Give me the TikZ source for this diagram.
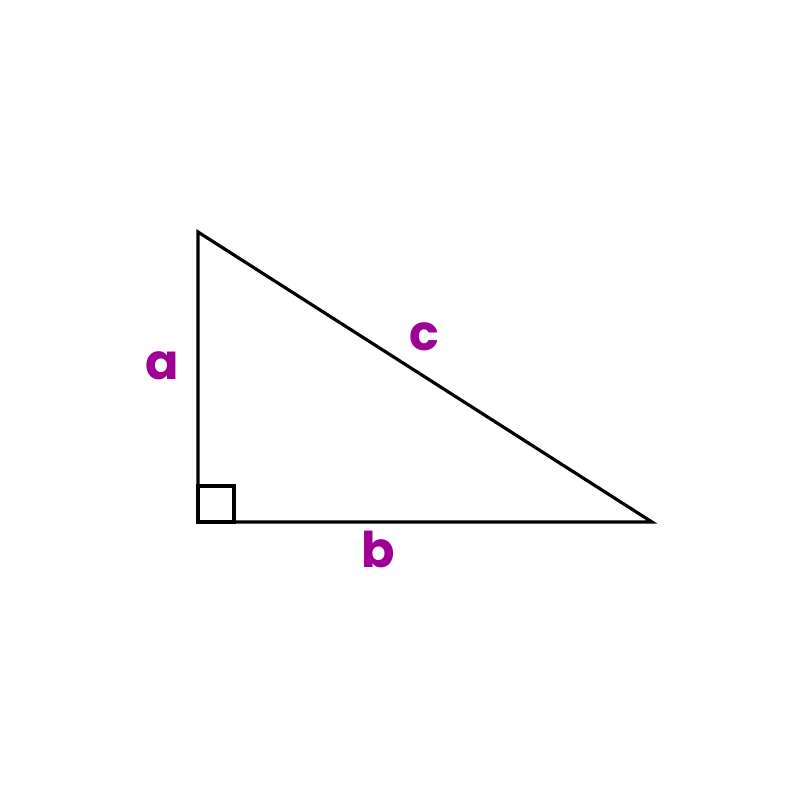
\documentclass[tikz,border=0pt]{standalone}
\usepackage{fontspec}
\setmainfont{Poppins}
\usetikzlibrary{positioning}
\definecolor{labcol}{RGB}{158,0,150}
\tikzstyle{side}=[draw=black, line width=0.9pt, line join=miter]
\tikzstyle{lab}=[text=labcol, font=\fontsize{14}{17}\selectfont\bfseries, inner sep=0pt]
\begin{document}
\begin{tikzpicture}[x=0.01cm,y=-0.01cm]
    \useasboundingbox (0,0) rectangle (800,800);
    \coordinate (top) at (198,232);
    \coordinate (corner) at (198,522);
    \coordinate (right) at (652,522);
    % triangle
    \draw[side] (top) -- (corner) -- (right) -- cycle;
    % right angle mark
    \draw[side] (corner) rectangle ++(36,-36);
    % labels
    \node[lab] (a) at (162,366) {a};
    \node[lab] (b) at (378,549) {b};
    \node[lab] (c) at (424,337) {c};
\end{tikzpicture}
\end{document}
